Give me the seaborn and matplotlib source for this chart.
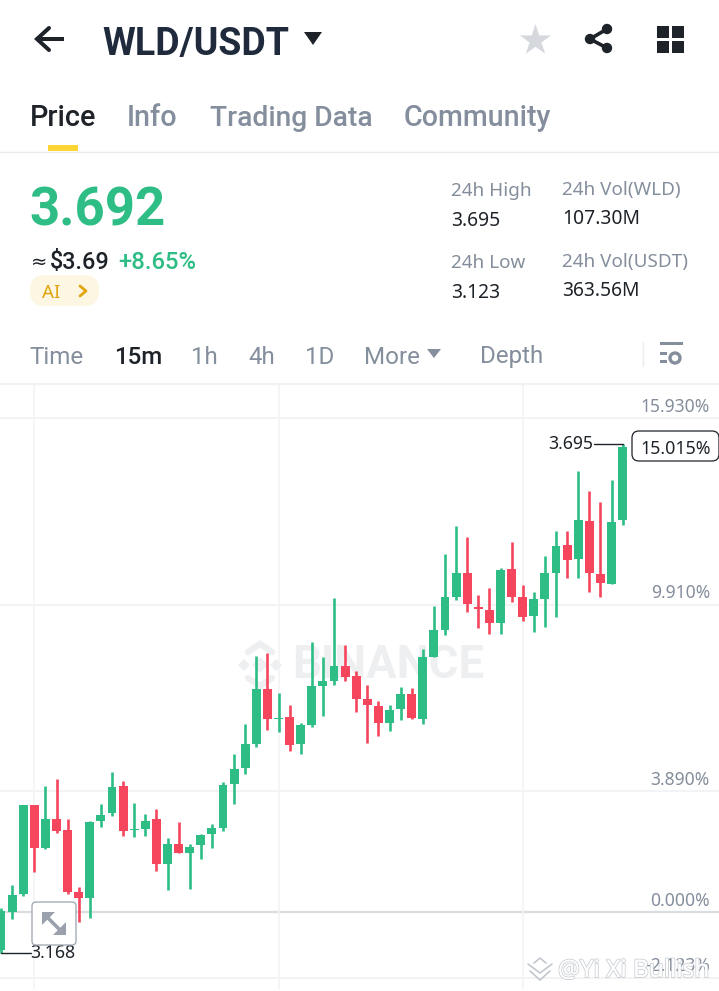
import numpy as np
import pandas as pd
import matplotlib
matplotlib.use("Agg")
import matplotlib.pyplot as plt
import matplotlib.patheffects as pe
from matplotlib.patches import FancyBboxPatch, Rectangle, Polygon, Circle
import seaborn as sns

# 15m candles
opens = [3.171, 3.210, 3.229, 3.321, 3.276, 3.306, 3.295, 3.231, 3.224, 3.304,
         3.313, 3.340, 3.295, 3.296, 3.306, 3.260, 3.280, 3.271, 3.279, 3.291,
         3.297, 3.343, 3.359, 3.384, 3.441, 3.410, 3.412, 3.384, 3.404, 3.444,
         3.449, 3.465, 3.454, 3.431, 3.423, 3.406, 3.420, 3.436, 3.410, 3.474,
         3.502, 3.536, 3.561, 3.526, 3.523, 3.509, 3.565, 3.536, 3.517, 3.534,
         3.561, 3.590, 3.576, 3.615, 3.560, 3.550, 3.616]
highs = [3.214, 3.238, 3.321, 3.321, 3.340, 3.348, 3.306, 3.236, 3.304, 3.322,
         3.355, 3.346, 3.323, 3.311, 3.317, 3.287, 3.303, 3.280, 3.291, 3.301,
         3.345, 3.374, 3.405, 3.475, 3.478, 3.437, 3.424, 3.406, 3.490, 3.474,
         3.535, 3.486, 3.460, 3.445, 3.428, 3.424, 3.443, 3.442, 3.482, 3.527,
         3.581, 3.610, 3.598, 3.538, 3.545, 3.566, 3.593, 3.549, 3.541, 3.579,
         3.605, 3.605, 3.667, 3.646, 3.635, 3.657, 3.695]
lows = [3.168, 3.203, 3.227, 3.251, 3.275, 3.292, 3.229, 3.200, 3.204, 3.298,
        3.309, 3.289, 3.288, 3.289, 3.252, 3.233, 3.271, 3.234, 3.265, 3.276,
        3.294, 3.322, 3.353, 3.381, 3.398, 3.396, 3.377, 3.374, 3.402, 3.413,
        3.445, 3.449, 3.417, 3.385, 3.392, 3.397, 3.409, 3.410, 3.405, 3.474,
        3.497, 3.533, 3.521, 3.504, 3.498, 3.498, 3.531, 3.511, 3.500, 3.505,
        3.515, 3.556, 3.556, 3.541, 3.536, 3.550, 3.611]
closes = [3.211, 3.228, 3.321, 3.276, 3.306, 3.294, 3.231, 3.224, 3.303, 3.310,
          3.339, 3.294, 3.296, 3.304, 3.260, 3.280, 3.271, 3.277, 3.290, 3.297,
          3.342, 3.358, 3.384, 3.441, 3.410, 3.411, 3.383, 3.404, 3.444, 3.449,
          3.465, 3.453, 3.431, 3.424, 3.406, 3.419, 3.436, 3.411, 3.474, 3.502,
          3.536, 3.561, 3.529, 3.524, 3.509, 3.564, 3.536, 3.515, 3.534, 3.561,
          3.589, 3.574, 3.616, 3.561, 3.551, 3.614, 3.692]

base_price = 3.21  # price at 0.000%
grid_pct = [15.93, 9.91, 3.89, -2.123]
grid_labels = ["15.930%", "9.910%", "3.890%", "-2.123%"]
grid_candles = [3, 25, 47]

GREEN = "#2EBD85"
RED = "#F6465D"
DARK = "#1E2329"
NAVY = "#1F2A3C"
GRAY = "#848E9C"
MARK = "#EEEFF1"
W, H = 719, 991
NOTO = ["Noto Sans", "DejaVu Sans"]
ROBOTO = ["Roboto", "DejaVu Sans"]


def to_pct(p):
    return (np.asarray(p) / base_price - 1) * 100


sns.set_theme(style="white")
plt.rcParams["font.family"] = NOTO

df = pd.DataFrame({"i": range(len(opens)), "open": to_pct(opens), "high": to_pct(highs),
                   "low": to_pct(lows), "close": to_pct(closes)})
df["up"] = df["close"] >= df["open"]
df["bottom"] = df[["open", "close"]].min(axis=1)
df["body"] = (df["close"] - df["open"]).abs().clip(lower=0.04)

fig = plt.figure(figsize=(W / 100, H / 100), dpi=100, facecolor="white")

# chart area, pixel rows 385..989
top_px, bot_px = 385, 989
ax = fig.add_axes([0, 1 - bot_px / H, 1, (bot_px - top_px) / H], zorder=1)
ax.set_facecolor("white")

for s in ax.spines.values():
    s.set_visible(False)
for v in grid_pct:
    ax.axhline(v, color="#F2F3F5", lw=1.4, zorder=1)
ax.axhline(0, color="#DADDE2", lw=1.6, zorder=1)
for c in grid_candles:
    ax.axvline(c, color="#F2F3F5", lw=1.2, zorder=1)

for is_up, color in [(True, GREEN), (False, RED)]:
    part = df[df["up"] == is_up]
    ax.vlines(part["i"], part["low"], part["high"], color=color, lw=1.9, zorder=3)
    sns.barplot(data=part, x="i", y="body", bottom=part["bottom"].values, native_scale=True,
                color=color, width=0.8, saturation=1, linewidth=0, errorbar=None, ax=ax, zorder=3)

ax.set_xlim(-1 / 11.1, 718 / 11.1)
ax.set_ylim((912 - bot_px) / 31, (912 - top_px) / 31)
ax.set_xticks([])
ax.set_yticks([])
ax.set_xlabel("")
ax.set_ylabel("")

trans = ax.get_yaxis_transform()
for v, lab in zip(grid_pct + [0], grid_labels + ["0.000%"]):
    ax.annotate(lab, xy=(1, v), xycoords=trans, xytext=(-6.5, 1.8), textcoords="offset points",
                ha="right", va="bottom", fontsize=12.6, color=GRAY, zorder=5)

# high / low markers
hi = df.loc[df["high"].idxmax()]
lo = df.loc[df["low"].idxmin()]
ax.plot([hi["i"] - 2.6, hi["i"]], [hi["high"]] * 2, color=DARK, lw=1, zorder=4)
ax.annotate(f"{max(highs):.3f}", xy=(hi["i"] - 2.65, hi["high"]), ha="right", va="center",
            fontsize=12.7, color=DARK, zorder=5)
ax.plot([lo["i"], lo["i"] + 2.7], [lo["low"]] * 2, color=DARK, lw=1, zorder=4)
ax.annotate(f"{min(lows):.3f}", xy=(lo["i"] + 2.65, lo["low"]), ha="left", va="center",
            fontsize=12.7, color=DARK, zorder=5)

# everything else is screen furniture, drawn in pixel coordinates on top
ui = fig.add_axes([0, 0, 1, 1], zorder=2)
ui.set_xlim(0, W)
ui.set_ylim(H, 0)
ui.axis("off")
ui.patch.set_alpha(0)


def label(x, y, s, size, color=GRAY, weight="normal", ha="left", family=None, **kw):
    return ui.text(x, y, s, fontsize=size, color=color, fontweight=weight, ha=ha, va="center_baseline",
                   family=family or NOTO, **kw)


# header
ui.plot([37, 64], [39, 39], color=DARK, lw=2.9, solid_capstyle="butt")
ui.plot([49, 37, 49], [28, 39, 50], color=DARK, lw=2.9, solid_joinstyle="miter")
label(102.5, 40.5, "WLD/USDT", 27, NAVY, "bold", family=ROBOTO)
ui.add_patch(Polygon([[304, 32], [322, 32], [313, 45]], closed=True, color=DARK, lw=0))
ui.scatter([535], [40], marker="*", s=560, color="#D5D9DE", linewidths=0)
for (cx, cy) in [(590, 39), (607, 29), (607, 48)]:
    ui.add_patch(Circle((cx, cy), 5.2, color=DARK, lw=0))
ui.plot([607, 590, 607], [29, 39, 48], color=DARK, lw=2.6)
for (rx, ry) in [(657, 26), (672, 26), (657, 41), (672, 41)]:
    ui.add_patch(Rectangle((rx, ry), 11.5, 11.5, color=DARK, lw=0))

# tabs
label(30, 115, "Price", 20.7, DARK, "medium", family=ROBOTO)
label(126.5, 115, "Info", 20.7, GRAY, "medium", family=ROBOTO)
label(209.5, 115, "Trading Data", 20.3, GRAY, "medium", family=ROBOTO)
label(403.5, 115, "Community", 20.6, GRAY, "medium", family=ROBOTO)
ui.add_patch(Rectangle((48, 145), 30, 6, color="#FCD535", lw=0))
ui.plot([0, W], [151.5, 151.5], color="#EAECEF", lw=1)

# price block
label(29.5, 206, "3.692", 38, GREEN, "bold", family=ROBOTO)
label(31, 260, "≈", 14, DARK)
label(49.5, 260, "$3.69", 16.8, DARK, "medium", family=ROBOTO)
label(118.5, 260, "+8.65%", 17.2, GREEN, "medium", family=ROBOTO)
ui.add_patch(FancyBboxPatch((36, 281), 57, 19, boxstyle="round,pad=0,rounding_size=8", mutation_aspect=1,
                            fc="#FDF6E3", ec="#FDF6E3", lw=12 * 0.72))
label(42, 291.5, "AI", 13.5, "#E0A50F")
ui.plot([80, 86, 80], [286, 291, 296], color="#E0A50F", lw=2)

# 24h stats
label(451, 189.5, "24h High", 13.6, GRAY)
label(451, 218, "3.695", 13.9, DARK)
label(562, 187.5, "24h Vol(WLD)", 13.6, GRAY)
label(562, 217, "107.30M", 13.9, DARK)
label(451, 261, "24h Low", 13.6, GRAY)
label(451, 290, "3.123", 13.9, DARK)
label(562, 260, "24h Vol(USDT)", 13.6, GRAY)
label(562, 289, "363.56M", 13.9, DARK)

# interval row
row_names = ["Time", "1h", "4h", "1D", "More", "Depth"]
row_x = [29, 191, 248, 305, 364, 480]
for x, name in zip(row_x, row_names):
    label(x, 354.5, name, 17.4, GRAY, family=ROBOTO)
label(114.5, 354.5, "15m", 17.4, DARK, "medium", family=ROBOTO)
ui.add_patch(Polygon([[427, 349], [441, 349], [434, 358]], closed=True, color=GRAY, lw=0))
ui.plot([643, 643], [342, 366], color="#EAECEF", lw=1)
ui.add_patch(Rectangle((660, 342), 23, 3, color=GRAY, lw=0))
ui.add_patch(Rectangle((660, 352), 7, 3, color=GRAY, lw=0))
ui.add_patch(Rectangle((660, 360), 7, 3, color=GRAY, lw=0))
ui.add_patch(Circle((675, 358), 5, fc="white", ec=GRAY, lw=2.4))
ui.plot([0, W], [384, 384], color="#F2F3F5", lw=1.6)

# expand button
ui.add_patch(FancyBboxPatch((32, 902), 44, 43, boxstyle="round,pad=0,rounding_size=4",
                            fc="white", ec="#A5ABB5", lw=1, zorder=6))
ui.plot([46, 62], [916, 932], color="#9AA1AC", lw=2.6, zorder=7)
ui.add_patch(Polygon([[42, 912], [55, 912], [42, 925]], closed=True, color="#9AA1AC", lw=0, zorder=7))
ui.add_patch(Polygon([[66, 935], [53, 935], [66, 922]], closed=True, color="#9AA1AC", lw=0, zorder=7))

# current price tag
ui.add_patch(FancyBboxPatch((632, 431), 87, 30, boxstyle="round,pad=0,rounding_size=7",
                            fc="white", ec=DARK, lw=0.9, zorder=6))
label(675.5, 447, "15.015%", 12.8, DARK, ha="center", zorder=7)

# Binance watermark behind the candles
ax.text(292 / W, 1 - (665 - top_px) / (bot_px - top_px), "BINANCE", transform=ax.transAxes, fontsize=32.8,
        fontweight="bold", color=MARK, ha="left", va="center", zorder=2, family=ROBOTO)
for lx, ly, r in [(260, 665, 8), (244, 665, 6), (276, 665, 6)]:
    ax.add_patch(Polygon([[lx - r, ly], [lx, ly - r], [lx + r, ly], [lx, ly + r]], closed=True,
                         color=MARK, lw=0, zorder=2, transform=ui.transData))
for sign in (-1, 1):
    ax.plot([248, 260, 272], [665 + sign * 13, 665 + sign * 21, 665 + sign * 13], color=MARK, lw=4.5,
            solid_joinstyle="miter", zorder=2, transform=ui.transData)

# author watermark
txt = label(558, 968, "@Yi Xi Bullish", 17.5, "white", zorder=8, alpha=0.9)
txt.set_path_effects([pe.withStroke(linewidth=1.3, foreground="#C4C8CE"), pe.Normal()])
ui.plot([528, 540, 552], [964, 973, 964], color="#C4C8CE", lw=1.2, zorder=8)
ui.plot([530, 540, 550], [971, 980, 971], color="#C4C8CE", lw=1.2, zorder=8)
ui.plot([534, 540, 546], [963, 958, 963], color="#C4C8CE", lw=1.2, zorder=8)

fig.savefig("out.png", dpi=100)
